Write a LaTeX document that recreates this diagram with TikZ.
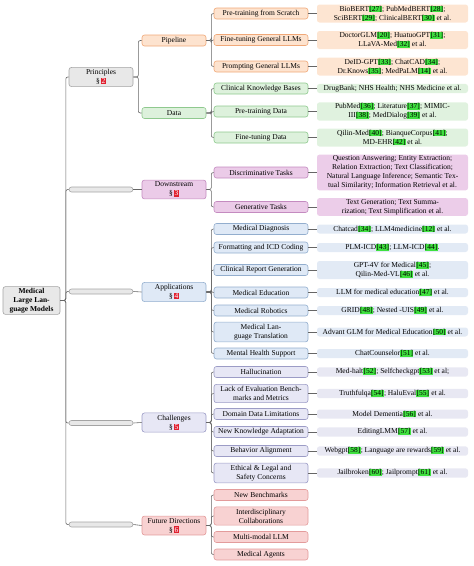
\documentclass[tikz,border=0pt]{standalone}
\usepackage{fontspec}
\setmainfont{Liberation Serif}
\usepackage{tikz}

\definecolor{greyfill}{HTML}{E8E8E8}
\definecolor{greyline}{HTML}{A4A4A4}
\definecolor{pipefill}{HTML}{FDE3CF}
\definecolor{pipeline}{HTML}{F0A878}
\definecolor{pipeleaf}{HTML}{FDE5D2}
\definecolor{datafill}{HTML}{DDF1DC}
\definecolor{dataline}{HTML}{8FC98E}
\definecolor{dataleaf}{HTML}{E0F2DF}
\definecolor{downfill}{HTML}{EBCBE8}
\definecolor{downline}{HTML}{C48BC0}
\definecolor{downleaf}{HTML}{ECCDE9}
\definecolor{applfill}{HTML}{DFE9F6}
\definecolor{applline}{HTML}{93AECE}
\definecolor{applleaf}{HTML}{E2EAF5}
\definecolor{chalfill}{HTML}{E7E7F5}
\definecolor{challine}{HTML}{9C9CC6}
\definecolor{challeaf}{HTML}{E8E8F3}
\definecolor{futrfill}{HTML}{F8D2D2}
\definecolor{futrline}{HTML}{E39B9B}
\definecolor{linkgrey}{HTML}{666666}
\definecolor{citegreen}{HTML}{3FE03F}
\definecolor{secred}{HTML}{E0202F}

\newcommand{\treefont}{\fontsize{7.5}{9}\selectfont}
\newcommand{\citeno}[1]{{\setlength{\fboxsep}{0.3pt}\colorbox{citegreen}{[#1]}}}
\newcommand{\secno}[1]{\S\,{\setlength{\fboxsep}{0.6pt}\colorbox{secred}{\textcolor{white}{#1}}}}

\begin{document}
\begin{tikzpicture}[x=1pt, y=-1pt,
  tbox/.style={rounded corners=2.5pt, line width=0.6pt, align=center, inner xsep=2pt, inner ysep=2pt, font=\treefont},
  secnode/.style={tbox, draw=#1line, fill=#1fill, minimum width=64pt, minimum height=11pt},
  topicnode/.style={tbox, draw=#1line, fill=#1fill, minimum width=94pt, minimum height=11pt},
  worknode/.style={tbox, fill=#1leaf, minimum width=151pt, minimum height=9pt, inner ysep=1.1pt},
  barnode/.style={draw=greyline, fill=greyfill, line width=0.6pt, rounded corners=2.5pt, minimum width=64pt, minimum height=5pt, inner sep=0pt},
  rootnode/.style={tbox, draw=greyline, fill=greyfill, minimum width=57pt, inner ysep=1.5pt, font=\treefont\bfseries},
  link/.style={draw=linkgrey, line width=0.6pt, rounded corners=2pt}]
\useasboundingbox (0,0) rectangle (474,566);

\node (root) [rootnode] at (31.5,300.5) {Medical\\Large Lan-\\guage Models};

% principles
\node (princ) [secnode=grey] at (101,77) {Principles\\\secno{2}};
\node (pipe) [secnode=pipe] at (174,40.5) {Pipeline};
\node (data) [secnode=data] at (174,113) {Data};
\node (ptscratch) [topicnode=pipe] at (261,13.5) {Pre-training from Scratch};
\node (ftgen) [topicnode=pipe] at (261,40) {Fine-tuning General LLMs};
\node (prgen) [topicnode=pipe] at (261,66.5) {Prompting General LLMs};
\node (ckb) [topicnode=data] at (261,88.5) {Clinical Knowledge Bases};
\node (ptdata) [topicnode=data] at (261,111.5) {Pre-training Data};
\node (ftdata) [topicnode=data] at (261,137.5) {Fine-tuning Data};
\node (w1) [worknode=pipe] at (392.5,13.5) {BioBERT\citeno{27}; PubMedBERT\citeno{28};\\SciBERT\citeno{29}; ClinicalBERT\citeno{30} et al.};
\node (w2) [worknode=pipe] at (392.5,40) {DoctorGLM\citeno{20}; HuatuoGPT\citeno{31};\\LLaVA-Med\citeno{32} et al.};
\node (w3) [worknode=pipe] at (392.5,66.5) {DeID-GPT\citeno{33}; ChatCAD\citeno{34};\\Dr.Knows\citeno{35}; MedPaLM\citeno{14} et al.};
\node (w4) [worknode=data] at (392.5,88.5) {DrugBank; NHS Health; NHS Medicine et al.};
\node (w5) [worknode=data] at (392.5,111.5) {PubMed\citeno{36}; Literature\citeno{37}; MIMIC-\\III\citeno{38}; MedDialog\citeno{39} et al.};
\node (w6) [worknode=data] at (392.5,137.5) {Qilin-Med\citeno{40}; BianqueCorpus\citeno{41};\\MD-EHR\citeno{42} et al.};

% downstream
\node (downbar) [barnode] at (101,189.5) {};
\node (down) [secnode=down] at (174,189.5) {Downstream\\\secno{3}};
\node (disc) [topicnode=down] at (261,172.5) {Discriminative Tasks};
\node (gen) [topicnode=down] at (261,207) {Generative Tasks};
\node (w7) [worknode=down] at (392.5,172.5) {Question Answering; Entity Extraction;\\Relation Extraction; Text Classification;\\Natural Language Inference; Semantic Tex-\\tual Similarity; Information Retrieval et al.};
\node (w8) [worknode=down] at (392.5,207) {Text Generation; Text Summa-\\rization; Text Simplification et al.};

% applications
\node (applbar) [barnode] at (101,291.5) {};
\node (appl) [secnode=appl] at (174,292) {Applications\\\secno{4}};
\node (diag) [topicnode=appl] at (261,229) {Medical Diagnosis};
\node (icd) [topicnode=appl] at (261,247.5) {Formatting and ICD Coding};
\node (report) [topicnode=appl] at (261,270) {Clinical Report Generation};
\node (edu) [topicnode=appl] at (261,292.5) {Medical Education};
\node (robot) [topicnode=appl] at (261,310.5) {Medical Robotics};
\node (transl) [topicnode=appl] at (261,332) {Medical Lan-\\guage Translation};
\node (mental) [topicnode=appl] at (261,353.5) {Mental Health Support};
\node (w9) [worknode=appl] at (392.5,229) {Chatcad\citeno{34}; LLM4medicine\citeno{12} et al.};
\node (w10) [worknode=appl] at (392.5,247.5) {PLM-ICD\citeno{43}; LLM-ICD\citeno{44}.};
\node (w11) [worknode=appl] at (392.5,270) {GPT-4V for Medical\citeno{45};\\Qilin-Med-VL\citeno{46} et al.};
\node (w12) [worknode=appl] at (392.5,292.5) {LLM for medical education\citeno{47} et al.};
\node (w13) [worknode=appl] at (392.5,310.5) {GRID\citeno{48}; Nested -UIS\citeno{49} et al.};
\node (w14) [worknode=appl] at (392.5,332) {Advant GLM for Medical Education\citeno{50} et al.};
\node (w15) [worknode=appl] at (392.5,353.5) {ChatCounselor\citeno{51} et al.};

% challenges
\node (chalbar) [barnode] at (101,423) {};
\node (chal) [secnode=chal] at (174,422.5) {Challenges\\\secno{5}};
\node (halluc) [topicnode=chal] at (261,372) {Hallucination};
\node (evalb) [topicnode=chal] at (261,393.5) {Lack of Evaluation Bench-\\marks and Metrics};
\node (domain) [topicnode=chal] at (261,414) {Domain Data Limitations};
\node (know) [topicnode=chal] at (261,432) {New Knowledge Adaptation};
\node (align) [topicnode=chal] at (261,451) {Behavior Alignment};
\node (ethic) [topicnode=chal] at (261,473) {Ethical \& Legal and\\Safety Concerns};
\node (w16) [worknode=chal] at (392.5,372) {Med-halt\citeno{52}; Selfcheckgpt\citeno{53} et al;};
\node (w17) [worknode=chal] at (392.5,393.5) {Truthfulqa\citeno{54}; HaluEval\citeno{55} et al.};
\node (w18) [worknode=chal] at (392.5,414) {Model Dementia\citeno{56} et al.};
\node (w19) [worknode=chal] at (392.5,432) {EditingLMM\citeno{57} et al.};
\node (w20) [worknode=chal] at (392.5,451) {Webgpt\citeno{58}; Language are rewards\citeno{59} et al.};
\node (w21) [worknode=chal] at (392.5,473) {Jailbroken\citeno{60}; Jailprompt\citeno{61} et al.};

% future directions
\node (futrbar) [barnode] at (101,524.5) {};
\node (futr) [secnode=futr] at (174,525.5) {Future Directions\\\secno{6}};
\node (bench) [topicnode=futr] at (261,495) {New Benchmarks};
\node (inter) [topicnode=futr] at (261,516) {Interdisciplinary\\Collaborations};
\node (mllm) [topicnode=futr] at (261,537) {Multi-modal LLM};
\node (agent) [topicnode=futr] at (261,554.5) {Medical Agents};

\draw[link] (root.east) -- ++(5.5,0) |- (princ.west);
\draw[link] (root.east) -- ++(5.5,0) |- (downbar.west);
\draw[link] (root.east) -- ++(5.5,0) |- (applbar.west);
\draw[link] (root.east) -- ++(5.5,0) |- (chalbar.west);
\draw[link] (root.east) -- ++(5.5,0) |- (futrbar.west);

\draw[link] (princ.east) -- ++(5,0) |- (pipe.west);
\draw[link] (princ.east) -- ++(5,0) |- (data.west);
\draw[link] (downbar.east) -- (down.west);
\draw[link] (applbar.east) -- (appl.west);
\draw[link] (chalbar.east) -- (chal.west);
\draw[link] (futrbar.east) -- (futr.west);

\draw[link] (pipe.east) -- ++(5,0) |- (ptscratch.west);
\draw[link] (pipe.east) -- ++(5,0) |- (ftgen.west);
\draw[link] (pipe.east) -- ++(5,0) |- (prgen.west);
\draw[link] (data.east) -- ++(5,0) |- (ckb.west);
\draw[link] (data.east) -- ++(5,0) |- (ptdata.west);
\draw[link] (data.east) -- ++(5,0) |- (ftdata.west);
\draw[link] (down.east) -- ++(5,0) |- (disc.west);
\draw[link] (down.east) -- ++(5,0) |- (gen.west);
\draw[link] (appl.east) -- ++(5,0) |- (diag.west);
\draw[link] (appl.east) -- ++(5,0) |- (icd.west);
\draw[link] (appl.east) -- ++(5,0) |- (report.west);
\draw[link] (appl.east) -- ++(5,0) |- (edu.west);
\draw[link] (appl.east) -- ++(5,0) |- (robot.west);
\draw[link] (appl.east) -- ++(5,0) |- (transl.west);
\draw[link] (appl.east) -- ++(5,0) |- (mental.west);
\draw[link] (chal.east) -- ++(5,0) |- (halluc.west);
\draw[link] (chal.east) -- ++(5,0) |- (evalb.west);
\draw[link] (chal.east) -- ++(5,0) |- (domain.west);
\draw[link] (chal.east) -- ++(5,0) |- (know.west);
\draw[link] (chal.east) -- ++(5,0) |- (align.west);
\draw[link] (chal.east) -- ++(5,0) |- (ethic.west);
\draw[link] (futr.east) -- ++(5,0) |- (bench.west);
\draw[link] (futr.east) -- ++(5,0) |- (inter.west);
\draw[link] (futr.east) -- ++(5,0) |- (mllm.west);
\draw[link] (futr.east) -- ++(5,0) |- (agent.west);

\draw[link] (ptscratch) -- (w1);
\draw[link] (ftgen) -- (w2);
\draw[link] (prgen) -- (w3);
\draw[link] (ckb) -- (w4);
\draw[link] (ptdata) -- (w5);
\draw[link] (ftdata) -- (w6);
\draw[link] (disc) -- (w7);
\draw[link] (gen) -- (w8);
\draw[link] (diag) -- (w9);
\draw[link] (icd) -- (w10);
\draw[link] (report) -- (w11);
\draw[link] (edu) -- (w12);
\draw[link] (robot) -- (w13);
\draw[link] (transl) -- (w14);
\draw[link] (mental) -- (w15);
\draw[link] (halluc) -- (w16);
\draw[link] (evalb) -- (w17);
\draw[link] (domain) -- (w18);
\draw[link] (know) -- (w19);
\draw[link] (align) -- (w20);
\draw[link] (ethic) -- (w21);
\end{tikzpicture}
\end{document}
